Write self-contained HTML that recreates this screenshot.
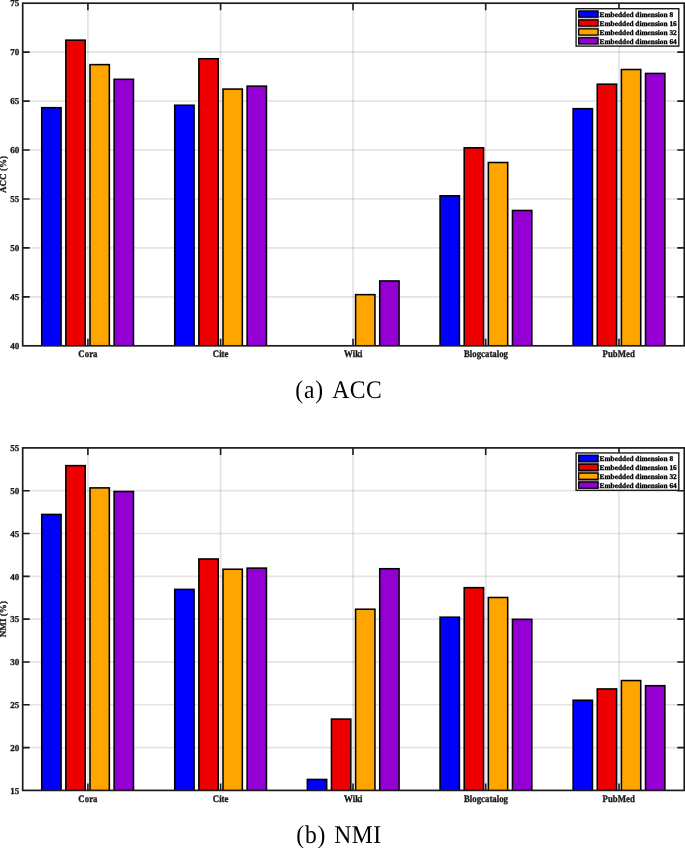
<!DOCTYPE html>
<html><head><meta charset="utf-8"><title>Embedded dimension</title>
<style>
html,body{margin:0;padding:0;background:#fff}
svg{display:block}
text{font-family:"Liberation Serif","Times New Roman",serif;fill:#1a1a1a;text-rendering:geometricPrecision}
.t{font-weight:bold;stroke:#1a1a1a;stroke-width:3px}
.l{font-weight:bold;fill:#000;stroke:#000;stroke-width:3px}
.c{font-size:23.6px;fill:#000}
</style></head><body>
<svg width="685" height="848" viewBox="0 0 685 848">
<clipPath id="c1"><rect x="22.7" y="3.2" width="661.55" height="342.6"/></clipPath>
<path d="M87.90 3.2V345.8M220.60 3.2V345.8M353.00 3.2V345.8M485.70 3.2V345.8M619.00 3.2V345.8" stroke="#262626" stroke-opacity=".125" stroke-width="1.7" fill="none"/>
<path d="M22.7 296.86H684.25M22.7 247.91H684.25M22.7 198.97H684.25M22.7 150.03H684.25M22.7 101.09H684.25M22.7 52.14H684.25" stroke="#262626" stroke-opacity=".125" stroke-width="1.7" fill="none"/>
<path d="M87.90 345.8v-7.0M87.90 3.2v7.0M220.60 345.8v-7.0M220.60 3.2v7.0M353.00 345.8v-7.0M353.00 3.2v7.0M485.70 345.8v-7.0M485.70 3.2v7.0M619.00 345.8v-7.0M619.00 3.2v7.0M22.7 296.86h7.0M684.25 296.86h-7.0M22.7 247.91h7.0M684.25 247.91h-7.0M22.7 198.97h7.0M684.25 198.97h-7.0M22.7 150.03h7.0M684.25 150.03h-7.0M22.7 101.09h7.0M684.25 101.09h-7.0M22.7 52.14h7.0M684.25 52.14h-7.0" stroke="#1c1c1c" stroke-width="1.6" fill="none"/>
<g clip-path="url(#c1)" stroke="#000" stroke-width="1.55">
<rect x="41.73" y="107.69" width="19.35" height="241.11" fill="#0000ff"/>
<rect x="65.86" y="40.15" width="19.35" height="308.65" fill="#ee0000"/>
<rect x="89.99" y="64.62" width="19.35" height="284.18" fill="#ffa500"/>
<rect x="114.12" y="79.30" width="19.35" height="269.50" fill="#9400d3"/>
<rect x="174.73" y="105.24" width="19.35" height="243.56" fill="#0000ff"/>
<rect x="198.86" y="58.74" width="19.35" height="290.06" fill="#ee0000"/>
<rect x="222.99" y="89.09" width="19.35" height="259.71" fill="#ffa500"/>
<rect x="247.12" y="86.15" width="19.35" height="262.65" fill="#9400d3"/>
<rect x="355.59" y="294.65" width="19.35" height="54.15" fill="#ffa500"/>
<rect x="379.72" y="280.95" width="19.35" height="67.85" fill="#9400d3"/>
<rect x="440.08" y="195.78" width="19.35" height="153.02" fill="#0000ff"/>
<rect x="464.21" y="147.82" width="19.35" height="200.98" fill="#ee0000"/>
<rect x="488.34" y="162.50" width="19.35" height="186.30" fill="#ffa500"/>
<rect x="512.47" y="210.47" width="19.35" height="138.33" fill="#9400d3"/>
<rect x="573.13" y="108.67" width="19.35" height="240.13" fill="#0000ff"/>
<rect x="597.26" y="84.20" width="19.35" height="264.60" fill="#ee0000"/>
<rect x="621.39" y="69.51" width="19.35" height="279.29" fill="#ffa500"/>
<rect x="645.52" y="73.43" width="19.35" height="275.37" fill="#9400d3"/>
</g>
<rect x="22.7" y="3.2" width="661.55" height="342.6" fill="none" stroke="#1c1c1c" stroke-width="1.7"/>
<g transform="translate(19.3 349.05) rotate(0.03) scale(0.1000 0.1000)"><text class="t" font-size="91.0" text-anchor="end">40</text></g>
<g transform="translate(19.3 300.11) rotate(0.03) scale(0.1000 0.1000)"><text class="t" font-size="91.0" text-anchor="end">45</text></g>
<g transform="translate(19.3 251.16) rotate(0.03) scale(0.1000 0.1000)"><text class="t" font-size="91.0" text-anchor="end">50</text></g>
<g transform="translate(19.3 202.22) rotate(0.03) scale(0.1000 0.1000)"><text class="t" font-size="91.0" text-anchor="end">55</text></g>
<g transform="translate(19.3 153.28) rotate(0.03) scale(0.1000 0.1000)"><text class="t" font-size="91.0" text-anchor="end">60</text></g>
<g transform="translate(19.3 104.34) rotate(0.03) scale(0.1000 0.1000)"><text class="t" font-size="91.0" text-anchor="end">65</text></g>
<g transform="translate(19.3 55.39) rotate(0.03) scale(0.1000 0.1000)"><text class="t" font-size="91.0" text-anchor="end">70</text></g>
<g transform="translate(19.3 6.45) rotate(0.03) scale(0.1000 0.1000)"><text class="t" font-size="91.0" text-anchor="end">75</text></g>
<g transform="translate(87.9 357.35) rotate(0.03) scale(0.1000 0.1120)"><text class="t" font-size="88.0" text-anchor="middle">Cora</text></g>
<g transform="translate(220.6 357.35) rotate(0.03) scale(0.1000 0.1120)"><text class="t" font-size="88.0" text-anchor="middle">Cite</text></g>
<g transform="translate(353.3 357.35) rotate(0.03) scale(0.1000 0.1120)"><text class="t" font-size="88.0" text-anchor="middle">Wiki</text></g>
<g transform="translate(486.0 357.35) rotate(0.03) scale(0.1000 0.1120)"><text class="t" font-size="88.0" text-anchor="middle">Blogcatalog</text></g>
<g transform="translate(618.7 357.35) rotate(0.03) scale(0.1000 0.1120)"><text class="t" font-size="88.0" text-anchor="middle">PubMed</text></g>
<g transform="translate(6.3 174.5) rotate(-90) scale(0.1000 0.1000)"><text class="t" font-size="91.0" text-anchor="middle">ACC (%)</text></g>
<rect x="576.1" y="8.70" width="102.7" height="37.4" fill="#fff" stroke="#1c1c1c" stroke-width="1.4"/>
<rect x="578.0" y="10.95" width="20.7" height="33.05" fill="#c8c8c8"/>
<rect x="578.65" y="10.95" width="19.4" height="6.2" fill="#0000ff" stroke="#000" stroke-width="1.3"/>
<g transform="translate(599.6 16.8) rotate(0.03) scale(0.1000 0.1000)"><text class="l" font-size="73.5" text-anchor="start">Embedded dimension 8</text></g>
<rect x="578.65" y="19.90" width="19.4" height="6.2" fill="#ee0000" stroke="#000" stroke-width="1.3"/>
<g transform="translate(599.6 25.73) rotate(0.03) scale(0.1000 0.1000)"><text class="l" font-size="73.5" text-anchor="start">Embedded dimension 16</text></g>
<rect x="578.65" y="28.85" width="19.4" height="6.2" fill="#ffa500" stroke="#000" stroke-width="1.3"/>
<g transform="translate(599.6 34.66) rotate(0.03) scale(0.1000 0.1000)"><text class="l" font-size="73.5" text-anchor="start">Embedded dimension 32</text></g>
<rect x="578.65" y="37.80" width="19.4" height="6.2" fill="#9400d3" stroke="#000" stroke-width="1.3"/>
<g transform="translate(599.6 43.59) rotate(0.03) scale(0.1000 0.1000)"><text class="l" font-size="73.5" text-anchor="start">Embedded dimension 64</text></g>
<clipPath id="c2"><rect x="22.7" y="447.9" width="661.55" height="342.5"/></clipPath>
<path d="M87.90 447.9V790.4M220.60 447.9V790.4M353.00 447.9V790.4M485.70 447.9V790.4M619.00 447.9V790.4" stroke="#262626" stroke-opacity=".125" stroke-width="1.7" fill="none"/>
<path d="M22.7 747.59H684.25M22.7 704.77H684.25M22.7 661.96H684.25M22.7 619.15H684.25M22.7 576.34H684.25M22.7 533.52H684.25M22.7 490.71H684.25" stroke="#262626" stroke-opacity=".125" stroke-width="1.7" fill="none"/>
<path d="M87.90 790.4v-7.0M87.90 447.9v7.0M220.60 790.4v-7.0M220.60 447.9v7.0M353.00 790.4v-7.0M353.00 447.9v7.0M485.70 790.4v-7.0M485.70 447.9v7.0M619.00 790.4v-7.0M619.00 447.9v7.0M22.7 747.59h7.0M684.25 747.59h-7.0M22.7 704.77h7.0M684.25 704.77h-7.0M22.7 661.96h7.0M684.25 661.96h-7.0M22.7 619.15h7.0M684.25 619.15h-7.0M22.7 576.34h7.0M684.25 576.34h-7.0M22.7 533.52h7.0M684.25 533.52h-7.0M22.7 490.71h7.0M684.25 490.71h-7.0" stroke="#1c1c1c" stroke-width="1.6" fill="none"/>
<g clip-path="url(#c2)" stroke="#000" stroke-width="1.55">
<rect x="41.73" y="514.44" width="19.35" height="278.96" fill="#0000ff"/>
<rect x="65.86" y="465.63" width="19.35" height="327.77" fill="#ee0000"/>
<rect x="89.99" y="487.89" width="19.35" height="305.51" fill="#ffa500"/>
<rect x="114.12" y="491.49" width="19.35" height="301.91" fill="#9400d3"/>
<rect x="174.73" y="589.36" width="19.35" height="204.04" fill="#0000ff"/>
<rect x="198.86" y="558.96" width="19.35" height="234.44" fill="#ee0000"/>
<rect x="222.99" y="569.24" width="19.35" height="224.16" fill="#ffa500"/>
<rect x="247.12" y="568.12" width="19.35" height="225.28" fill="#9400d3"/>
<rect x="307.33" y="779.45" width="19.35" height="13.95" fill="#0000ff"/>
<rect x="331.46" y="719.08" width="19.35" height="74.32" fill="#ee0000"/>
<rect x="355.59" y="609.22" width="19.35" height="184.18" fill="#ffa500"/>
<rect x="379.72" y="568.72" width="19.35" height="224.68" fill="#9400d3"/>
<rect x="440.08" y="617.19" width="19.35" height="176.21" fill="#0000ff"/>
<rect x="464.21" y="587.65" width="19.35" height="205.75" fill="#ee0000"/>
<rect x="488.34" y="597.49" width="19.35" height="195.91" fill="#ffa500"/>
<rect x="512.47" y="619.33" width="19.35" height="174.07" fill="#9400d3"/>
<rect x="573.13" y="700.24" width="19.35" height="93.16" fill="#0000ff"/>
<rect x="597.26" y="688.94" width="19.35" height="104.46" fill="#ee0000"/>
<rect x="621.39" y="680.55" width="19.35" height="112.85" fill="#ffa500"/>
<rect x="645.52" y="685.69" width="19.35" height="107.71" fill="#9400d3"/>
</g>
<rect x="22.7" y="447.9" width="661.55" height="342.5" fill="none" stroke="#1c1c1c" stroke-width="1.7"/>
<g transform="translate(19.3 793.65) rotate(0.03) scale(0.1000 0.1000)"><text class="t" font-size="91.0" text-anchor="end">15</text></g>
<g transform="translate(19.3 750.84) rotate(0.03) scale(0.1000 0.1000)"><text class="t" font-size="91.0" text-anchor="end">20</text></g>
<g transform="translate(19.3 708.02) rotate(0.03) scale(0.1000 0.1000)"><text class="t" font-size="91.0" text-anchor="end">25</text></g>
<g transform="translate(19.3 665.21) rotate(0.03) scale(0.1000 0.1000)"><text class="t" font-size="91.0" text-anchor="end">30</text></g>
<g transform="translate(19.3 622.4) rotate(0.03) scale(0.1000 0.1000)"><text class="t" font-size="91.0" text-anchor="end">35</text></g>
<g transform="translate(19.3 579.59) rotate(0.03) scale(0.1000 0.1000)"><text class="t" font-size="91.0" text-anchor="end">40</text></g>
<g transform="translate(19.3 536.77) rotate(0.03) scale(0.1000 0.1000)"><text class="t" font-size="91.0" text-anchor="end">45</text></g>
<g transform="translate(19.3 493.96) rotate(0.03) scale(0.1000 0.1000)"><text class="t" font-size="91.0" text-anchor="end">50</text></g>
<g transform="translate(19.3 451.15) rotate(0.03) scale(0.1000 0.1000)"><text class="t" font-size="91.0" text-anchor="end">55</text></g>
<g transform="translate(87.9 801.95) rotate(0.03) scale(0.1000 0.1120)"><text class="t" font-size="88.0" text-anchor="middle">Cora</text></g>
<g transform="translate(220.6 801.95) rotate(0.03) scale(0.1000 0.1120)"><text class="t" font-size="88.0" text-anchor="middle">Cite</text></g>
<g transform="translate(353.3 801.95) rotate(0.03) scale(0.1000 0.1120)"><text class="t" font-size="88.0" text-anchor="middle">Wiki</text></g>
<g transform="translate(486.0 801.95) rotate(0.03) scale(0.1000 0.1120)"><text class="t" font-size="88.0" text-anchor="middle">Blogcatalog</text></g>
<g transform="translate(618.7 801.95) rotate(0.03) scale(0.1000 0.1120)"><text class="t" font-size="88.0" text-anchor="middle">PubMed</text></g>
<g transform="translate(6.3 619.15) rotate(-90) scale(0.1000 0.1000)"><text class="t" font-size="91.0" text-anchor="middle">NMI (%)</text></g>
<rect x="576.1" y="452.95" width="102.7" height="37.4" fill="#fff" stroke="#1c1c1c" stroke-width="1.4"/>
<rect x="578.0" y="455.20" width="20.7" height="33.05" fill="#7a7a7a"/>
<rect x="578.65" y="455.20" width="19.4" height="6.2" fill="#0000ff" stroke="#000" stroke-width="1.3"/>
<g transform="translate(599.6 461.1) rotate(0.03) scale(0.1000 0.1000)"><text class="l" font-size="73.5" text-anchor="start">Embedded dimension 8</text></g>
<rect x="578.65" y="464.15" width="19.4" height="6.2" fill="#ee0000" stroke="#000" stroke-width="1.3"/>
<g transform="translate(599.6 470.03) rotate(0.03) scale(0.1000 0.1000)"><text class="l" font-size="73.5" text-anchor="start">Embedded dimension 16</text></g>
<rect x="578.65" y="473.10" width="19.4" height="6.2" fill="#ffa500" stroke="#000" stroke-width="1.3"/>
<g transform="translate(599.6 478.96) rotate(0.03) scale(0.1000 0.1000)"><text class="l" font-size="73.5" text-anchor="start">Embedded dimension 32</text></g>
<rect x="578.65" y="482.05" width="19.4" height="6.2" fill="#9400d3" stroke="#000" stroke-width="1.3"/>
<g transform="translate(599.6 487.89) rotate(0.03) scale(0.1000 0.1000)"><text class="l" font-size="73.5" text-anchor="start">Embedded dimension 64</text></g>
<g transform="translate(0 398.0) scale(1 1.08)"><text class="c" x="295.3" y="0" style="letter-spacing:0.8px">(a)</text><text class="c" x="332.2" y="0" style="letter-spacing:0.55px">ACC</text></g>
<g transform="translate(0 842.9) scale(1 1.08)"><text class="c" x="296.3" y="0" style="letter-spacing:0.8px">(b)</text><text class="c" x="334.3" y="0" style="letter-spacing:0.45px">NMI</text></g>
</svg>
</body></html>
